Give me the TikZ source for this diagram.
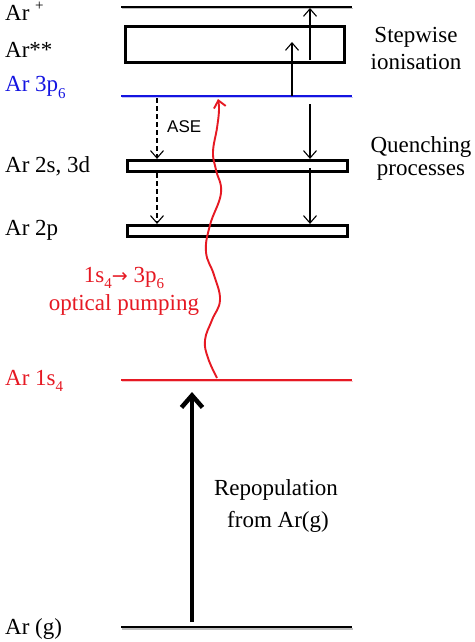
\documentclass[tikz,border=0pt]{standalone}
\usepackage{fontspec}
\setmainfont{Liberation Serif}
\setsansfont{Liberation Sans}
\newfontfamily\arrowfont{DejaVu Sans}
\usetikzlibrary{arrows.meta,calc}
\definecolor{lvblue}{RGB}{20,20,225}
\definecolor{lvred}{RGB}{230,25,35}
\newcommand{\lsub}[1]{\raisebox{-0.3em}{\fontsize{15}{15}\selectfont #1}}
\newcommand{\lsup}[1]{\raisebox{0.45em}{\fontsize{15}{15}\selectfont #1}}
\begin{document}
\begin{tikzpicture}[x=1pt,y=1pt,
  lbl/.style={anchor=base west, font=\fontsize{23}{26}\selectfont, inner sep=0},
  txt/.style={anchor=base, font=\fontsize{23}{26}\selectfont, inner sep=0, align=center},
  lvl/.style={line width=1.7pt},
  shadowline/.style={line width=1.7pt, draw=black!25},
  band/.style={draw, line width=3.2pt, inner sep=0, minimum width=219},
  thinarr/.style={line width=1.1pt, -{Straight Barb[length=7.5pt,width=13pt]}},
  dasharr/.style={thinarr, dash pattern=on 5pt off 3pt},
  bigarr/.style={line width=4.5pt, -{Straight Barb[length=12pt,width=21pt]}},
]
\useasboundingbox (0,0) rectangle (474,-642);
\fill[white] (0,0) rectangle (474,-642);

% level lines
\coordinate (ionL) at (121,-7);   \coordinate (ionR) at (352,-7);
\coordinate (p6L) at (121,-96);   \coordinate (p6R) at (352,-96);
\coordinate (s4L) at (121,-380);  \coordinate (s4R) at (352,-380);
\coordinate (gL) at (121,-627);   \coordinate (gR) at (352,-627);

\draw[shadowline] ($(ionL)+(1,-1.6)$) -- ($(ionR)+(1,-1.6)$);
\draw[shadowline, draw=lvblue!25] ($(p6L)+(1,-1.6)$) -- ($(p6R)+(1,-1.6)$);
\draw[shadowline, draw=lvred!25] ($(s4L)+(1,-1.6)$) -- ($(s4R)+(1,-1.6)$);
\draw[shadowline] ($(gL)+(1,-1.8)$) -- ($(gR)+(1,-1.8)$);

\draw[lvl, line width=1.4pt] (ionL) -- (ionR);
\draw[lvl, draw=lvblue] (p6L) -- (p6R);
\draw[lvl, draw=lvred] (s4L) -- (s4R);
\draw[lvl, line width=2.4pt] (gL) -- (gR);

% bands
\node[band, minimum height=36] (arss) at (235,-44.5) {};
\node[band, minimum height=11, minimum width=220] (sd) at (237.5,-166) {};
\node[band, minimum height=11, minimum width=220] (tp) at (237.5,-231) {};

% x positions
\coordinate (xa) at (292,0);
\coordinate (xb) at (310,0);
\coordinate (xd) at (157,0);
\coordinate (xr) at (192,0);

% stepwise ionisation arrows
\coordinate (a1end) at (292,-42);
\coordinate (a2start) at (310,-60);
\draw[thinarr] (xa |- p6L) -- (a1end);
\draw[thinarr] (a2start) -- ($(xb |- ionL)+(0,-1)$);

% quenching arrows
\coordinate (q1start) at (310,-104);
\coordinate (q2start) at (310,-168);
\draw[thinarr] (q1start) -- (xb |- sd.north);
\draw[thinarr] (q2start) -- (xb |- tp.north);

% ASE dashed
\draw[dasharr] ($(xd |- p6L)+(0,-2)$) -- (xd |- sd.north);
\draw[dasharr] (xd |- sd.south) -- (xd |- tp.north);

% repopulation
\draw[bigarr] ($(xr |- gL)+(0,5)$) -- ($(xr |- s4L)+(0,-12)$);

% optical pumping wavy arrow
\coordinate (wstart) at (217,-378);
\coordinate (wend) at (218,-99);
\draw[lvred, line width=1.9pt, -{Straight Barb[length=7pt,width=12pt]}]
  plot[smooth, tension=0.7] coordinates {(217,-378) (208,-358) (205,-340) (212,-320) (220,-300) (214,-275) (206,-252) (210,-225) (221,-193) (216,-170) (213,-152) (217,-128) (219,-110) (218,-99)};

% left labels
\node[lbl] (lion) at (5,-21) {Ar \lsup{+}};
\node[lbl] (lss) at (5,-58) {Ar**};
\node[lbl, text=lvblue] (lp6) at (5,-92) {Ar 3p\lsub{6}};
\node[lbl] (lsd) at (5,-172) {Ar 2s, 3d};
\node[lbl] (ltp) at (5,-235) {Ar 2p};
\node[lbl, text=lvred] (ls4) at (5,-385) {Ar 1s\lsub{4}};
\node[lbl] (lg) at (5,-634) {Ar (g)};

% right labels
\node[txt] (step1) at (416,-42) {Stepwise};
\node[txt] (step2) at (416,-70) {ionisation};
\node[txt] (q1) at (421,-152) {Quenching};
\node[txt] (q2) at (421,-175) {processes};
\node[txt] (r1) at (276,-495) {Repopulation};
\node[txt] (r2) at (278,-527) {from Ar(g)};

% ASE
\node[anchor=base west, inner sep=0, font=\sffamily\fontsize{17}{20}\selectfont] (ase) at (167,-132) {ASE};

% optical pumping text
\node[txt, text=lvred] (op1) at (124,-282) {1s\lsub{4}{\arrowfont\fontsize{19}{20}\selectfont →} 3p\lsub{6}};
\node[txt, text=lvred] (op2) at (124,-310) {optical pumping};
\end{tikzpicture}
\end{document}
